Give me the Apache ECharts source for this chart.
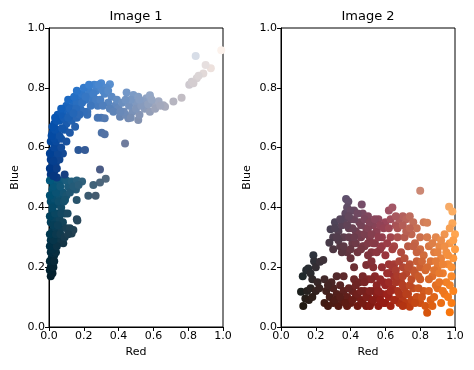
<!DOCTYPE html>
<html>
<head>
<meta charset="utf-8">
<script src="https://cdn.jsdelivr.net/npm/echarts@6/dist/echarts.min.js"></script>
<style>
html,body{margin:0;padding:0;background:#fff;}
#chart{width:474px;height:370px;}
</style>
</head>
<body>
<div id="chart"></div>
<script>
// ---- data: [red, blue] per pixel ----
const titles = ['Image 1', 'Image 2'];
const xName = 'Red';
const yName = 'Blue';
const tickValues = [0.0, 0.2, 0.4, 0.6, 0.8, 1.0];

const img1Column = [
  [0.01,0.17],[0.02,0.18],[0.01,0.2],[0.02,0.21],[0.015,0.23],[0.03,0.24],[0.01,0.25],[0.04,0.25],
  [0.02,0.27],[0.04,0.28],[0.01,0.29],[0.03,0.3],[0.06,0.29],[0.082,0.28],[0.05,0.31],[0.02,0.32],
  [0.04,0.33],[0.07,0.33],[0.01,0.35],[0.03,0.36],[0.06,0.36],[0.08,0.35],[0.05,0.38],[0.02,0.39],
  [0.09,0.38],[0.04,0.41],[0.07,0.4],[0.01,0.42],[0.03,0.43],[0.06,0.44],[0.02,0.46],[0.05,0.46],
  [0.08,0.45],[0.11,0.47],[0.155,0.46],[0.03,0.485],[0.07,0.49],[0.1,0.49],[0.13,0.487],[0.16,0.49],
  [0.19,0.487],[0.05,0.48],[0.01,0.51],[0.03,0.52],[0.02,0.54],[0.04,0.55],[0.01,0.56],[0.03,0.57],
  [0.06,0.56],[0.02,0.59],[0.05,0.6],[0.08,0.58],
  [0.005,0.19],[0.025,0.2],[0.005,0.22],[0.03,0.22],[0.02,0.26],[0.005,0.27],[0.045,0.27],[0.025,0.29],
  [0.005,0.31],[0.04,0.31],[0.065,0.31],[0.025,0.34],[0.05,0.34],[0.005,0.37],[0.035,0.38],[0.07,0.38],
  [0.02,0.4],[0.055,0.42],[0.005,0.44],[0.04,0.45],[0.025,0.47],[0.065,0.47],[0.005,0.49],[0.045,0.5],
  [0.025,0.505],[0.005,0.53],[0.045,0.53],[0.025,0.555],[0.05,0.58],[0.005,0.58],[0.03,0.6],[0.07,0.6],
  [0.09,0.3],[0.1,0.33],[0.085,0.42],[0.1,0.44],[0.12,0.45],[0.14,0.47],[0.17,0.475],[0.09,0.51]
];
const img1Scatter = [
  [0.13,0.313],[0.14,0.324],[0.163,0.356],[0.16,0.36],[0.107,0.38],[0.092,0.425],[0.159,0.425],
  [0.12,0.33],[0.11,0.31],[0.169,0.592],[0.207,0.592],[0.293,0.527],[0.326,0.496],[0.293,0.483],
  [0.255,0.475],[0.226,0.439],[0.268,0.439],[0.437,0.614],[0.303,0.65],[0.32,0.645]
];
const img1Arc = [
  [0.01,0.62],[0.04,0.62],[0.07,0.63],[0.1,0.62],[0.02,0.65],[0.05,0.66],[0.09,0.66],[0.12,0.65],
  [0.03,0.68],[0.06,0.69],[0.1,0.68],[0.13,0.69],[0.05,0.71],[0.08,0.72],[0.12,0.71],[0.16,0.7],
  [0.1,0.74],[0.14,0.74],[0.18,0.73],[0.22,0.72],[0.13,0.76],[0.17,0.77],[0.21,0.76],[0.25,0.75],
  [0.28,0.74],[0.19,0.78],[0.23,0.79],[0.27,0.79],[0.3,0.8],[0.26,0.81],[0.3,0.815],[0.35,0.812],
  [0.33,0.8],[0.32,0.78],[0.36,0.77],[0.34,0.75],[0.38,0.74],[0.4,0.73],[0.3,0.7],[0.32,0.698],
  [0.28,0.7],[0.22,0.71],[0.15,0.67],[0.24,0.77],[0.16,0.75],
  [0.03,0.63],[0.06,0.64],[0.015,0.64],[0.035,0.66],[0.075,0.665],[0.02,0.67],[0.045,0.69],[0.085,0.7],
  [0.11,0.7],[0.065,0.71],[0.035,0.7],[0.095,0.73],[0.07,0.73],[0.12,0.73],[0.155,0.73],[0.11,0.76],
  [0.145,0.77],[0.19,0.75],[0.16,0.79],[0.2,0.8],[0.23,0.81],[0.21,0.77],[0.255,0.78],[0.285,0.81],
  [0.31,0.79],[0.34,0.79],[0.27,0.76],[0.295,0.76],[0.24,0.74],[0.2,0.72],[0.175,0.71],[0.14,0.715],
  [0.31,0.74],[0.35,0.73],[0.37,0.72],[0.39,0.76]
];
const img1Branch = [
  [0.408,0.703],[0.456,0.698],[0.513,0.692],[0.44,0.71],[0.48,0.72],[0.52,0.71],[0.55,0.73],
  [0.58,0.72],[0.6,0.748],[0.62,0.742],[0.657,0.742],[0.667,0.737],[0.715,0.754],[0.762,0.767],
  [0.446,0.784],[0.485,0.776],[0.513,0.77],[0.56,0.765],[0.58,0.775],[0.54,0.755],[0.5,0.75],
  [0.46,0.74],[0.42,0.75],[0.63,0.755],
  [0.43,0.72],[0.47,0.7],[0.5,0.73],[0.53,0.74],[0.57,0.745],[0.59,0.76],[0.61,0.73],[0.64,0.74],
  [0.47,0.76],[0.52,0.76],[0.44,0.76],[0.41,0.72]
];
const img1Light = [
  [0.806,0.81],[0.82,0.82],[0.849,0.832],[0.887,0.848],[0.93,0.865],[0.9,0.876],[0.843,0.906],
  [0.99,0.926],[0.86,0.84],[0.83,0.815]
];

const img2Left = [
  [0.115,0.118],[0.128,0.07],[0.14,0.095],[0.16,0.09],[0.15,0.12],[0.17,0.13],[0.125,0.17],
  [0.145,0.19],[0.157,0.196],[0.17,0.18],[0.18,0.16],[0.186,0.24],[0.19,0.22],[0.2,0.2],
  [0.224,0.218],[0.243,0.224],[0.21,0.15],[0.2,0.12],[0.18,0.1],[0.22,0.13],[0.25,0.16],
  [0.25,0.08],[0.27,0.07],[0.26,0.12],[0.28,0.1],[0.3,0.08],[0.3,0.13],[0.32,0.11],[0.33,0.07],
  [0.34,0.14],[0.35,0.09],[0.36,0.12],[0.29,0.15],[0.27,0.14],[0.32,0.17],[0.36,0.17],[0.38,0.1],
  [0.38,0.07]
];
const img2Lower = [
  [0.4,0.08],[0.41,0.12],[0.42,0.16],[0.43,0.1],[0.44,0.07],[0.45,0.15],[0.46,0.09],[0.47,0.17],
  [0.48,0.12],[0.49,0.07],[0.5,0.1],[0.5,0.16],[0.52,0.08],[0.53,0.12],[0.54,0.17],[0.55,0.1],
  [0.56,0.07],[0.57,0.16],[0.58,0.11],[0.6,0.08],[0.6,0.14],[0.61,0.18],[0.62,0.1],[0.63,0.07],
  [0.64,0.13],[0.65,0.17],[0.66,0.09],[0.67,0.12],[0.68,0.08],[0.69,0.15],[0.7,0.1],[0.71,0.13],
  [0.72,0.08],[0.74,0.068],[0.73,0.11],[0.75,0.09],[0.76,0.13],[0.78,0.1],[0.8,0.08],[0.82,0.12],
  [0.84,0.048],[0.83,0.07],[0.86,0.09],[0.88,0.1],[0.9,0.13],[0.92,0.08],[0.94,0.11],[0.97,0.049],
  [0.98,0.08],[0.99,0.12],[0.42,0.2],[0.49,0.207],[0.53,0.2],[0.58,0.2],
  [0.31,0.09],[0.34,0.1],[0.37,0.08],[0.39,0.13],[0.41,0.09],[0.43,0.14],[0.44,0.11],[0.46,0.12],
  [0.47,0.08],[0.48,0.15],[0.49,0.1],[0.51,0.12],[0.51,0.07],[0.52,0.16],[0.53,0.09],[0.55,0.14],
  [0.56,0.12],[0.57,0.09],[0.59,0.15],[0.59,0.08],[0.61,0.11],[0.62,0.15],[0.63,0.12],[0.65,0.09],
  [0.66,0.15],[0.68,0.11],[0.7,0.07],[0.7,0.14],[0.72,0.11],[0.74,0.14],[0.77,0.08],[0.79,0.13],
  [0.81,0.1],[0.85,0.12],[0.87,0.07],[0.89,0.14],[0.93,0.12],[0.96,0.1]
];
const img2Purple = [
  [0.3,0.3],[0.31,0.35],[0.33,0.32],[0.34,0.27],[0.35,0.34],[0.36,0.3],[0.37,0.38],[0.374,0.428],
  [0.387,0.42],[0.38,0.25],[0.39,0.33],[0.4,0.36],[0.41,0.28],[0.42,0.39],[0.43,0.32],[0.44,0.25],
  [0.45,0.35],[0.46,0.3],[0.464,0.41],[0.47,0.38],[0.48,0.27],[0.49,0.33],[0.5,0.37],[0.51,0.3],
  [0.52,0.25],[0.53,0.34],[0.54,0.28],[0.55,0.32],[0.56,0.36],[0.57,0.26],[0.58,0.3],[0.6,0.35],
  [0.6,0.24],[0.62,0.39],[0.64,0.4],[0.63,0.3],[0.65,0.27],[0.66,0.34],[0.68,0.36],[0.7,0.37],
  [0.72,0.36],[0.74,0.37],[0.76,0.35],[0.67,0.3],[0.69,0.25],[0.71,0.3],[0.73,0.27],[0.75,0.31],
  [0.77,0.28],[0.78,0.33],[0.8,0.3],[0.82,0.35],[0.84,0.349],[0.285,0.327],[0.278,0.282],
  [0.33,0.29],[0.4,0.23],[0.35,0.25],[0.52,0.22],[0.62,0.21],[0.65,0.21],
  [0.36,0.36],[0.38,0.4],[0.4,0.39],[0.39,0.3],[0.41,0.33],[0.42,0.36],[0.43,0.28],[0.44,0.38],
  [0.45,0.31],[0.46,0.34],[0.47,0.27],[0.48,0.31],[0.48,0.36],[0.5,0.33],[0.5,0.28],[0.51,0.35],
  [0.52,0.31],[0.53,0.28],[0.54,0.36],[0.55,0.25],[0.56,0.3],[0.57,0.34],[0.58,0.27],[0.59,0.33],
  [0.61,0.28],[0.62,0.33],[0.63,0.36],[0.64,0.26],[0.66,0.37],[0.67,0.33],[0.7,0.34],[0.72,0.32],
  [0.74,0.33],[0.38,0.34],[0.36,0.27],[0.4,0.26],[0.46,0.26],[0.5,0.24],[0.42,0.3],[0.39,0.37],
  [0.3,0.26],[0.32,0.3],[0.34,0.36],[0.31,0.33]
];
const img2Orange = [
  [0.7,0.2],[0.72,0.18],[0.74,0.21],[0.76,0.19],[0.78,0.22],[0.8,0.2],[0.8,0.16],[0.82,0.24],
  [0.83,0.19],[0.85,0.27],[0.86,0.22],[0.87,0.17],[0.88,0.25],[0.89,0.3],[0.9,0.2],[0.91,0.27],
  [0.92,0.23],[0.93,0.18],[0.94,0.31],[0.95,0.25],[0.96,0.21],[0.97,0.28],[0.98,0.17],[0.99,0.23],
  [1.0,0.26],[0.966,0.402],[0.985,0.386],[0.985,0.347],[1.0,0.31],[0.97,0.14],[0.95,0.15],
  [0.91,0.15],[0.8,0.456],
  [0.62,0.18],[0.64,0.2],[0.66,0.19],[0.68,0.22],[0.67,0.17],[0.7,0.17],[0.71,0.23],[0.73,0.2],
  [0.75,0.16],[0.77,0.18],[0.79,0.17],[0.81,0.22],[0.84,0.2],[0.85,0.16],[0.88,0.19],[0.89,0.22],
  [0.91,0.18],[0.93,0.21],[0.94,0.27],[0.96,0.24],[0.98,0.2],[0.99,0.29],[0.97,0.33],[0.92,0.29],
  [0.9,0.25],[0.87,0.28],[0.84,0.3],[0.8,0.26],[0.78,0.25],[0.76,0.27]
];

const image1 = [].concat(img1Column, img1Scatter, img1Arc, img1Branch, img1Light);
const image2 = [].concat(img2Left, img2Lower, img2Purple, img2Orange);

// ---- styling ----
function clamp(v){ return Math.max(0, Math.min(1, v)); }
function rgb(r,g,b){ return 'rgb(' + Math.round(clamp(r)*255) + ',' + Math.round(clamp(g)*255) + ',' + Math.round(clamp(b)*255) + ')'; }
// approximate green channel of each pixel colour (style only)
function colour1(p){
  const r = p.data[0], b = p.data[1];
  const g = b < 0.5 ? 0.7*b + 0.2*r : 0.6*b + 0.5*r - 0.1;
  return rgb(r, g, b);
}
function colour2(p){ const r=p.data[0], b=p.data[1]; return rgb(r, 0.06+0.6*b+Math.max(0, r-0.6), b); }

const FONT = 'DejaVu Sans';
const grids = [
  {left: 49, top: 28, width: 174, height: 299},
  {left: 281, top: 28, width: 174, height: 299}
];

function xAxis(i){
  return {
    gridIndex: i, type: 'value', min: 0, max: 1, interval: 0.2,
    name: xName, nameLocation: 'middle', nameGap: 19,
    nameTextStyle: {color: '#000', fontSize: 11, fontFamily: FONT},
    axisLine: {show: true, onZero: false, lineStyle: {color: '#000', width: 1}},
    axisTick: {show: true, inside: false, length: 4, lineStyle: {color: '#000'}},
    axisLabel: {color: '#000', fontSize: 11, fontFamily: FONT, margin: 4,
      formatter: v => v.toFixed(1)},
    splitLine: {show: false}
  };
}
function yAxis(i){
  return {
    gridIndex: i, type: 'value', min: 0, max: 1, interval: 0.2,
    name: yName, nameLocation: 'middle', nameGap: 28,
    nameTextStyle: {color: '#000', fontSize: 11, fontFamily: FONT},
    axisLine: {show: true, onZero: false, lineStyle: {color: '#000', width: 1}},
    axisTick: {show: true, inside: false, length: 4, lineStyle: {color: '#000'}},
    axisLabel: {color: '#000', fontSize: 11, fontFamily: FONT, margin: 4,
      formatter: v => v.toFixed(1)},
    splitLine: {show: false}
  };
}

const chart = echarts.init(document.getElementById('chart'), null, {renderer: 'canvas'});
chart.setOption({
  animation: false,
  backgroundColor: '#fff',
  grid: grids.map(g => Object.assign({show: true, borderColor: '#000', borderWidth: 1, backgroundColor: 'transparent'}, g)),
  xAxis: [xAxis(0), xAxis(1)],
  yAxis: [yAxis(0), yAxis(1)],
  graphic: titles.map((t, i) => ({
    type: 'text',
    x: grids[i].left + grids[i].width / 2,
    y: 17,
    style: {text: t, fill: '#000', font: '13px "' + FONT + '"', textAlign: 'center', textVerticalAlign: 'middle'}
  })),
  series: [
    {type: 'scatter', xAxisIndex: 0, yAxisIndex: 0, data: image1, symbol: 'circle', symbolSize: 8,
      itemStyle: {color: colour1, opacity: 1}},
    {type: 'scatter', xAxisIndex: 1, yAxisIndex: 1, data: image2, symbol: 'circle', symbolSize: 8,
      itemStyle: {color: colour2, opacity: 1}}
  ]
});
</script>
</body>
</html>
